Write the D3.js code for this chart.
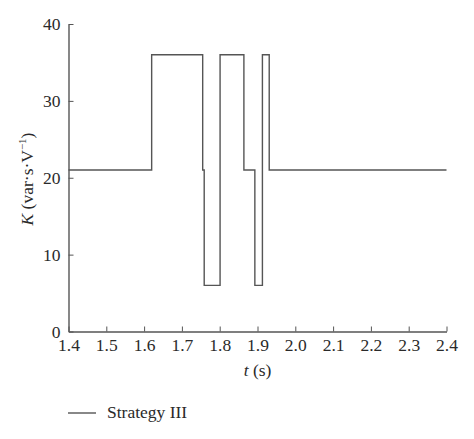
<!DOCTYPE html>
<html>
<head>
<meta charset="utf-8">
<script src="https://cdn.jsdelivr.net/npm/d3@7"></script>
<style>
  body { margin: 0; background: #fff; }
  text { font-family: "Liberation Serif", "DejaVu Serif", serif; fill: #2a2a2a; }
</style>
</head>
<body>
<svg width="474" height="439"></svg>
<script>
// Step breakpoints (t in s) and the K value that holds from each one
var times  = [1.40, 1.620, 1.755, 1.759, 1.801, 1.864, 1.893, 1.913, 1.931, 2.40];
var values = [21,   36,    21,    6,     36,    21,    6,     36,    21,    21];
var xTicks = [1.4, 1.5, 1.6, 1.7, 1.8, 1.9, 2.0, 2.1, 2.2, 2.3, 2.4];
var yTicks = [0, 10, 20, 30, 40];

var svg = d3.select("svg");
var color = "#555";
var fs = 17.5;

var x = d3.scaleLinear().domain([1.4, 2.4]).range([68.5, 446.5]);
var y = d3.scaleLinear().domain([0, 40]).range([331.5, 24]);

// x axis, ticks pointing inward
var xAxis = svg.append("g")
    .attr("transform", "translate(0," + y(0) + ")")
    .call(d3.axisBottom(x).tickValues(xTicks).tickSizeInner(-5).tickSizeOuter(0)
      .tickPadding(7).tickFormat(d3.format(".1f")));
xAxis.select(".domain").attr("stroke", color).attr("stroke-width", 1.4);
xAxis.selectAll(".tick line").attr("stroke", color);
xAxis.selectAll("text").attr("font-size", fs).attr("fill", "#2a2a2a");

// y axis
var yAxis = svg.append("g")
    .attr("transform", "translate(" + x(1.4) + ",0)")
    .call(d3.axisLeft(y).tickValues(yTicks).tickSizeInner(-5).tickSizeOuter(0).tickPadding(8));
yAxis.select(".domain").attr("stroke", color).attr("stroke-width", 1.4);
yAxis.selectAll(".tick line").attr("stroke", color);
yAxis.selectAll("text").attr("font-size", fs).attr("fill", "#2a2a2a");

// the step line
var pts = times.map(function(t, i) { return [t, values[i]]; });
var line = d3.line()
    .x(function(d) { return x(d[0]); })
    .y(function(d) { return y(d[1]); })
    .curve(d3.curveStepAfter);
svg.append("path")
    .datum(pts)
    .attr("d", line)
    .attr("fill", "none")
    .attr("stroke", color)
    .attr("stroke-width", 1.4);

// axis titles
var yl = svg.append("text")
    .attr("transform", "translate(33,179) rotate(-90)")
    .attr("text-anchor", "middle")
    .attr("font-size", fs);
yl.append("tspan").attr("font-style", "italic").text("K");
yl.append("tspan").text(" (var·s·V");
yl.append("tspan").attr("font-size", 11).attr("dy", -7).text("−1");
yl.append("tspan").attr("dy", 7).text(")");

var xl = svg.append("text")
    .attr("x", x(1.9))
    .attr("y", 376)
    .attr("text-anchor", "middle")
    .attr("font-size", fs);
xl.append("tspan").attr("font-style", "italic").text("t");
xl.append("tspan").text(" (s)");

// legend
svg.append("line")
    .attr("x1", 68).attr("x2", 96)
    .attr("y1", 413).attr("y2", 413)
    .attr("stroke", color).attr("stroke-width", 1.4);
svg.append("text")
    .attr("x", 107).attr("y", 418)
    .attr("font-size", fs)
    .text("Strategy III");
</script>
</body>
</html>
